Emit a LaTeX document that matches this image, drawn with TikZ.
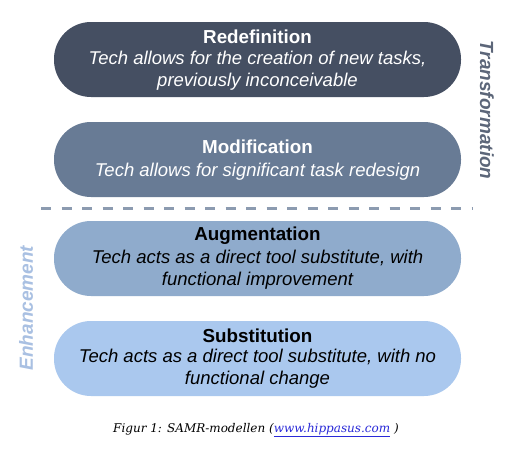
\documentclass[tikz,border=0pt]{standalone}
\usepackage{fontspec}
\setmainfont{Liberation Sans}
\newfontfamily\capfont{DejaVu Serif}
\begin{document}
\begin{tikzpicture}[x=1pt,y=-1pt,
  pill/.style={rounded corners=37pt, minimum width=407pt, minimum height=75pt, inner sep=0pt},
  ttl/.style={font=\fontsize{18.8}{21}\selectfont\bfseries},
  dsc/.style={font=\fontsize{18.5}{22}\selectfont\itshape, align=center},
  side/.style={font=\fontsize{19}{21}\selectfont\bfseries\itshape}]
\definecolor{cRed}{HTML}{454F62}
\definecolor{cMod}{HTML}{687B95}
\definecolor{cAug}{HTML}{8FABCC}
\definecolor{cSub}{HTML}{AAC8EE}
\definecolor{cTr}{HTML}{5C6679}
\definecolor{cEn}{HTML}{A9C0E2}
\definecolor{cDash}{HTML}{8C9BB0}
\definecolor{cLink}{HTML}{2A2AD8}
\useasboundingbox (0,0) rectangle (515,453);
\fill[white] (0,0) rectangle (515,453);
% pills
\node[pill, fill=cRed] (red) at (257.5,59.5) {};
\node[pill, fill=cMod] (mod) at (257.5,159.5) {};
\node[pill, fill=cAug] (aug) at (257.5,258.5) {};
\node[pill, fill=cSub] (sub) at (257.5,358.5) {};
% texts
\node[ttl, text=white] (redT) at (257.5,37) {Redefinition};
\node[dsc, text=white] (redD) at (257.5,71) {Tech allows for the creation of new tasks,\\previously inconceivable};
\node[ttl, text=white] (modT) at (257.5,147) {Modification};
\node[dsc, text=white] (modD) at (257.5,172) {Tech allows for significant task redesign};
\node[ttl, text=black] (augT) at (257.5,236) {Augmentation};
\node[dsc, text=black] (augD) at (257.5,270) {Tech acts as a direct tool substitute, with\\functional improvement};
\node[ttl, text=black] (subT) at (257.5,336) {Substitution};
\node[dsc, text=black] (subD) at (257.5,369) {Tech acts as a direct tool substitute, with no\\functional change};
% dashed divider
\coordinate (dl) at (41,208);
\coordinate (dr) at (472,208);
\draw[cDash, line width=3pt, dash pattern=on 10pt off 10.5pt] (dl) -- (dr);
% side labels
\node[side, text=cTr, rotate=-90] (tr) at (487,110) {Transformation};
\node[side, text=cEn, rotate=90] (en) at (26,308) {Enhancement};
% caption
\node[font=\capfont\fontsize{12}{14}\selectfont\itshape] (cap) at (256,430) {Figur 1: SAMR-modellen (\textcolor{cLink}{\underline{www.hippasus.com}} )};
\end{tikzpicture}
\end{document}
